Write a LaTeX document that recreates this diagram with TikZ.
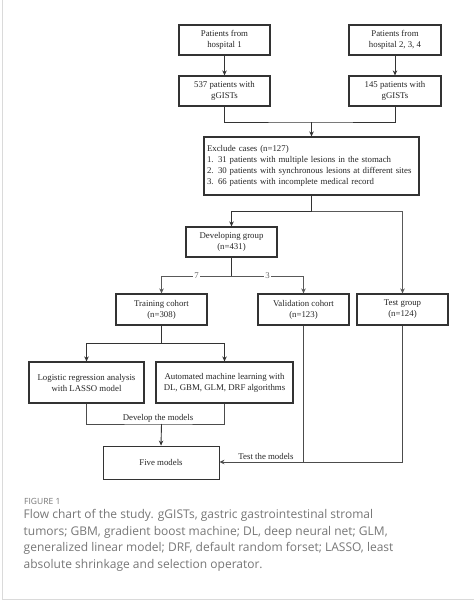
\documentclass[tikz,border=0pt]{standalone}
\usepackage{fontspec}
\setmainfont{Liberation Serif}
\newfontfamily\capfont{Open Sans}
\usetikzlibrary{arrows.meta}
\definecolor{boxline}{HTML}{333333}
\definecolor{capgrey}{HTML}{777777}
\definecolor{framegrey}{HTML}{DADADA}
\tikzset{
  fbox/.style={draw=boxline, line width=1.2pt, inner sep=1pt, align=center,
    font=\fontsize{8.8}{11}\selectfont, text=black!85},
  conn/.style={draw=black!80, line width=0.9pt},
  arr/.style={conn, -{Stealth[length=5pt,width=4.5pt]}},
  lbl/.style={font=\fontsize{8.8}{11}\selectfont, text=black!85, inner sep=1pt},
}
\begin{document}
\begin{tikzpicture}[x=1pt,y=-1pt]
\useasboundingbox (0,0) rectangle (474,602);
\fill[white] (0,0) rectangle (474,602);
\draw[framegrey, line width=1.5pt] (2.5,0) -- (2.5,599.5) -- (474,599.5);

% boxes
\node[fbox, minimum width=91pt, minimum height=30pt] (h1) at (224.5,40) {Patients from\\hospital 1};
\node[fbox, minimum width=92pt, minimum height=30pt] (h2) at (395,40) {Patients from\\hospital 2, 3, 4};
\node[fbox, minimum width=91pt, minimum height=30pt] (p1) at (224.5,91) {537 patients with\\gGISTs};
\node[fbox, minimum width=92pt, minimum height=30pt] (p2) at (395,91) {145 patients with\\gGISTs};
\node[fbox, minimum width=215pt, minimum height=58pt, align=left, text width=209pt, inner sep=3pt] (ex) at (311.5,166)
  {Exclude cases (n=127)\\1. 31 patients with multiple lesions in the stomach\\2. 30 patients with synchronous lesions at different sites\\3. 66 patients with incomplete medical record};
\node[fbox, minimum width=91pt, minimum height=30pt] (dev) at (231.5,242) {Developing group\\(n=431)};
\node[fbox, minimum width=91pt, minimum height=31pt] (tr) at (161.5,309.5) {Training cohort\\(n=308)};
\node[fbox, minimum width=91pt, minimum height=31pt] (va) at (303.5,309.5) {Validation cohort\\(n=123)};
\node[fbox, minimum width=91pt, minimum height=31pt] (te) at (402.5,309.5) {Test group\\(n=124)};
\node[fbox, minimum width=115pt, minimum height=41pt] (la) at (86.5,382.5) {Logistic regression analysis\\with LASSO model};
\node[fbox, minimum width=137pt, minimum height=41pt] (au) at (224.5,382.5) {Automated machine learning with\\DL, GBM, GLM, DRF algorithms};
\node[fbox, line width=0.9pt, minimum width=116pt, minimum height=33pt] (fm) at (161,462.5) {Five models};

% helper coordinates
\coordinate (m1) at (311.5,122);
\coordinate (s1) at (311.5,211);
\coordinate (s2) at (231.5,276);
\coordinate (s3) at (161.5,343);
\coordinate (s4) at (161.5,424);
\coordinate (s5) at (402.5,462);

% connectors
\draw[arr] (h1) -- (p1);
\draw[arr] (h2) -- (p2);
\draw[conn] (p1.south) |- (m1) -| (p2.south);
\draw[arr] (m1) -- (ex.north);
\draw[conn] (ex.south) -- (s1);
\draw[arr] (s1) -| (dev.north);
\draw[arr, draw=black!65] (s1) -| (te.north);
\draw[conn] (dev.south) -- (s2);
\draw[arr, draw=black!65] (s2) -| (tr.north) node[pos=0.25, lbl, fill=white, text=black!60] {7};
\draw[arr, draw=black!65] (s2) -| (va.north) node[pos=0.25, lbl, fill=white, text=black!60] {3};
\draw[conn] (tr.south) -- (s3);
\draw[arr] (s3) -| (la.north);
\draw[arr] (s3) -| (au.north);
\draw[conn, draw=black!70] (la.south) |- (s4) -| (au.south);
\node[lbl, anchor=base] (dm) at (158,420) {Develop the models};
\draw[arr] (s4) -- (fm.north);
\draw[conn, draw=black!70] (te.south) -- (s5);
\draw[conn, draw=black!70] (va.south) |- (s5);
\draw[arr, draw=black!70] (s5) -- (fm.east |- s5);
\node[lbl, anchor=base] (tm) at (266,459) {Test the models};

% caption
\node[anchor=base west, inner sep=0pt, text=capgrey, font=\capfont\fontsize{8.5}{10}\selectfont] (fig) at (24,504.5) {FIGURE 1};
\node[anchor=north west, inner sep=0pt, align=left, text=capgrey, font=\capfont\fontsize{12}{16.8}\selectfont] (cap) at (23.5,509)
  {Flow chart of the study. gGISTs, gastric gastrointestinal stromal\\tumors; GBM, gradient boost machine; DL, deep neural net; GLM,\\generalized linear model; DRF, default random forset; LASSO, least\\absolute shrinkage and selection operator.};
\end{tikzpicture}
\end{document}
